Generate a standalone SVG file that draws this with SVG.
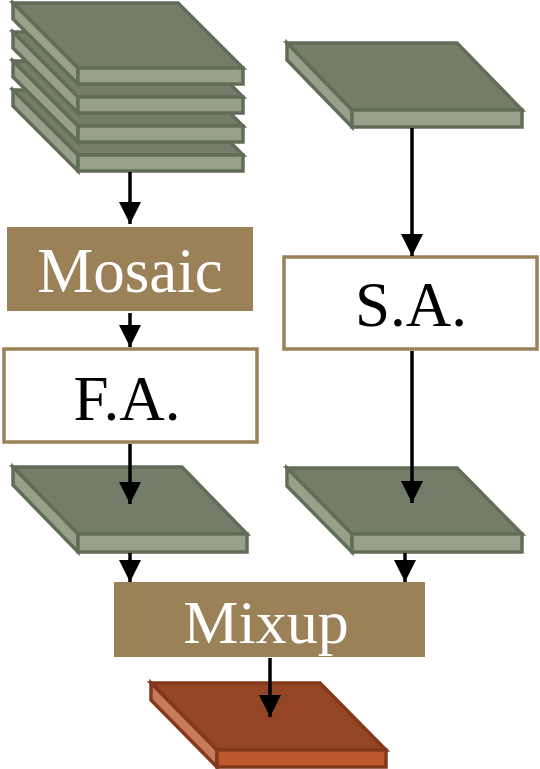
<svg xmlns="http://www.w3.org/2000/svg" width="540" height="769" viewBox="0 0 540 769">
<defs>
<style>
.top{fill:#747d6a;stroke:#626d58;stroke-width:3.5;stroke-linejoin:miter}
.side{fill:#97a189;stroke:#626d58;stroke-width:3.5}
.otop{fill:#944524;stroke:#82381b;stroke-width:3.5}
.ofront{fill:#c0582e;stroke:#82381b;stroke-width:3.5}
.oside{fill:#c97a5a;stroke:#82381b;stroke-width:3.5}
.tanbox{fill:#9a8158}
.wbox{fill:#ffffff;stroke:#9a8158;stroke-width:3.5}
.lbl{font-family:"Liberation Serif","Times New Roman",serif;text-anchor:middle}
.conn{stroke:#000;stroke-width:3.5;fill:none;marker-end:url(#ah)}
</style>
<marker id="ah" markerUnits="userSpaceOnUse" markerWidth="22" markerHeight="22" viewBox="0 0 22 22" refX="22" refY="11" orient="auto">
<path d="M0,0 L22,11 L0,22 Z" fill="#000"/>
</marker>
</defs>

<g id="stack-input">
<g id="slab4">
<polygon class="top" points="13,90 178,90 243,155 78,155"/>
<polygon class="side" points="13,90 78,155 78,171 13,106"/>
<rect class="side" x="78" y="155" width="165" height="16"/>
</g>
<g id="slab3">
<polygon class="top" points="13,61 178,61 243,126 78,126"/>
<polygon class="side" points="13,61 78,126 78,142 13,77"/>
<rect class="side" x="78" y="126" width="165" height="16"/>
</g>
<g id="slab2">
<polygon class="top" points="13,32 178,32 243,97 78,97"/>
<polygon class="side" points="13,32 78,97 78,113 13,48"/>
<rect class="side" x="78" y="97" width="165" height="16"/>
</g>
<g id="slab1">
<polygon class="top" points="13,3 178,3 243,68 78,68"/>
<polygon class="side" points="13,3 78,68 78,84 13,19"/>
<rect class="side" x="78" y="68" width="165" height="16"/>
</g>
</g>

<g id="slab-right-top">
<polygon class="top" points="287,43 457,43 522,110 352,110"/>
<polygon class="side" points="287,43 352,110 352,127 287,60"/>
<rect class="side" x="352" y="110" width="170" height="17"/>
</g>

<g id="mosaic">
<rect class="tanbox" x="7" y="227" width="246" height="84"/>
<text class="lbl" x="130" y="292" font-size="63" fill="#ffffff">Mosaic</text>
</g>

<g id="fa">
<rect class="wbox" x="4" y="349" width="253" height="93"/>
<text class="lbl" x="127" y="420" font-size="63" fill="#000000">F.A.</text>
</g>

<g id="sa">
<rect class="wbox" x="284" y="257" width="253" height="92"/>
<text class="lbl" x="411" y="326" font-size="63" fill="#000000">S.A.</text>
</g>

<g id="slab-left-mid">
<polygon class="top" points="13,467 182,467 247,534 78,534"/>
<polygon class="side" points="13,467 78,534 78,552 13,485"/>
<rect class="side" x="78" y="534" width="169" height="18"/>
</g>

<g id="slab-right-mid">
<polygon class="top" points="287,468 457,468 522,534 352,534"/>
<polygon class="side" points="287,468 352,534 352,552 287,486"/>
<rect class="side" x="352" y="534" width="170" height="18"/>
</g>

<g id="mixup">
<rect class="tanbox" x="114" y="582" width="311" height="75"/>
<text class="lbl" x="266" y="643" font-size="62" fill="#ffffff">Mixup</text>
</g>

<g id="slab-output">
<polygon class="otop" points="151,683 320,683 386,750 217,750"/>
<polygon class="oside" points="151,683 217,750 217,767 151,700"/>
<rect class="ofront" x="217" y="750" width="169" height="17"/>
</g>

<g id="connectors">
<line class="conn" x1="130" y1="172" x2="130" y2="224"/>
<line class="conn" x1="130" y1="313" x2="130" y2="347"/>
<line class="conn" x1="130" y1="444" x2="130" y2="504"/>
<line class="conn" x1="130" y1="553" x2="130" y2="582"/>
<line class="conn" x1="412" y1="128" x2="412" y2="256"/>
<line class="conn" x1="412" y1="351" x2="412" y2="503"/>
<line class="conn" x1="405" y1="553" x2="405" y2="582"/>
<line class="conn" x1="270" y1="658" x2="270" y2="717"/>
</g>
</svg>
